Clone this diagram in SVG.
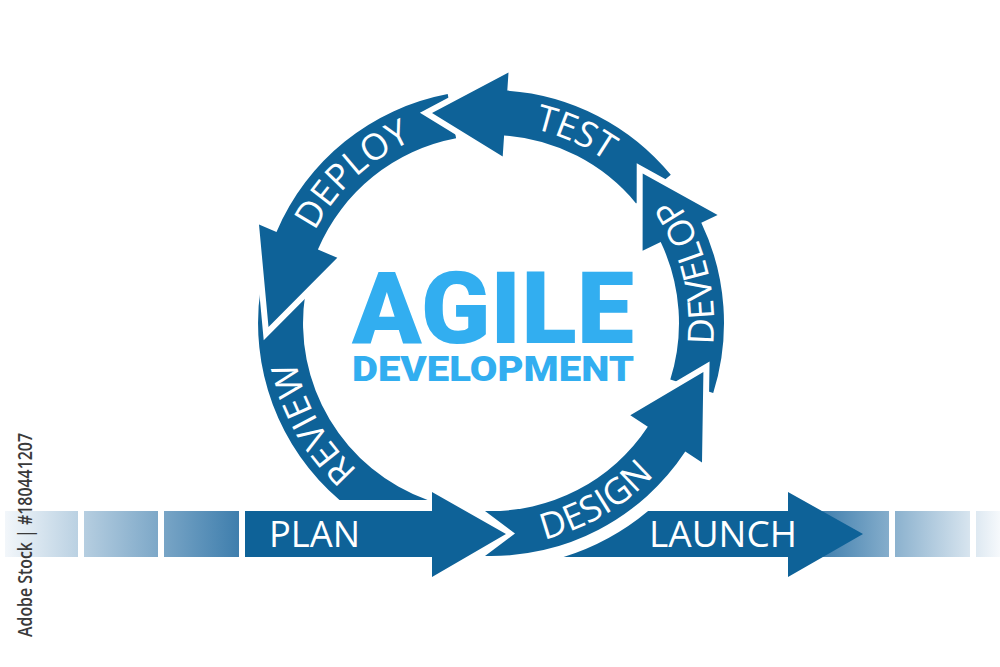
<svg xmlns="http://www.w3.org/2000/svg" xmlns:xlink="http://www.w3.org/1999/xlink" width="1000" height="667" viewBox="0 0 1000 667">
  <style>
    .fill { fill: #0e6298; }
    .halo { fill: #ffffff; stroke: #ffffff; stroke-width: 12; stroke-linejoin: miter; }
    .lbl { fill: #ffffff; font-family: "Open Sans", "Noto Sans", "Liberation Sans", sans-serif; font-size: 36px; font-weight: 400; }
    .title { fill: #32aef0; font-family: Roboto, "Liberation Sans", sans-serif; font-weight: 900; }
    .wm { fill: #3a3a3a; font-family: "Open Sans", "Liberation Sans", sans-serif; font-weight: 600; font-size: 19px; }
  </style>
  <defs>
    <linearGradient id="fadeL" gradientUnits="userSpaceOnUse" x1="0" y1="0" x2="245" y2="0">
      <stop offset="0" stop-color="#f6f9fc"/>
      <stop offset="1" stop-color="#3a7bab"/>
    </linearGradient>
    <linearGradient id="fadeR" gradientUnits="userSpaceOnUse" x1="815" y1="0" x2="1000" y2="0">
      <stop offset="0" stop-color="#3a7bab"/>
      <stop offset="1" stop-color="#f6f9fc"/>
    </linearGradient>
    <path id="p-review" d="M 305.1,295.2 L 260.6,288.6 A 233 233 0 0 0 339.5,500 L 427.6,500 A 188 188 0 0 1 305.1,295.2 Z"/>
    <path id="p-deploy" d="M 456.1,138.3 L 447.7,94.1 A 233 233 0 0 0 276.5,232.0 L 259.0,224.5 L 268.5,327 L 337.3,257.8 L 317.9,249.5 A 188 188 0 0 1 456.1,138.3 Z"/>
    <path id="p-test" d="M 636.1,203.4 L 670.8,174.8 A 233 233 0 0 0 507.3,90.6 L 508.5,72.6 L 432.0,113.1 L 502.7,156.4 L 504.1,135.5 A 188 188 0 0 1 636.1,203.4 Z"/>
    <path id="p-develop" d="M 670.3,379.5 L 713.2,393.1 A 233 233 0 0 0 701.3,222.7 L 717.6,214.9 L 642.7,173.4 L 642.6,250.7 L 660.7,242.1 A 188 188 0 0 1 670.3,379.5 Z"/>
    <path id="p-design" d="M 485,511 L 515,533.5 L 485,556 A 233 233 0 0 0 685.3,451.6 L 702.0,462.6 L 703.4,372.0 L 630.3,415.2 L 647.8,426.8 A 188 188 0 0 1 485,511 Z"/>
    <path id="arc-test" d="M 436.3,132.2 A 198 198 0 0 1 669.4,236.0"/>
    <path id="arc-deploy" d="M 294.0,298.8 A 198 198 0 0 1 480.6,124.8"/>
    <path id="arc-review" d="M 421.5,508.9 A 198 198 0 0 1 295.8,286.8"/>
    <path id="arc-develop" d="M 692.3,419.0 A 223 223 0 0 0 620.5,141.5"/>
    <path id="arc-design" d="M 453.8,542.9 A 223 223 0 0 0 701.1,397.8"/>
  </defs>
  <rect x="0" y="0" width="1000" height="667" fill="#ffffff"/>

  <g id="timeline-fade">
    <rect x="5" y="511" width="73" height="46" fill="url(#fadeL)"/>
    <rect x="84" y="511" width="74" height="46" fill="url(#fadeL)"/>
    <rect x="164" y="511" width="75" height="46" fill="url(#fadeL)"/>
    <rect x="815" y="511" width="74" height="46" fill="url(#fadeR)"/>
    <rect x="895" y="511" width="75" height="46" fill="url(#fadeR)"/>
    <rect x="976" y="511" width="24" height="46" fill="url(#fadeR)"/>
  </g>

  <g id="connectors">
    <g id="launch">
      <path class="fill" d="M 648.1,511 H 788 V 492 L 863,534 L 788,577 V 557 H 563.6 A 245 245 0 0 0 648.1,511 Z"/>
      <text class="lbl" x="649" y="547" font-size="35" textLength="148" lengthAdjust="spacingAndGlyphs">LAUNCH</text>
    </g>
    <g id="review">
      <use xlink:href="#p-review" class="halo"/>
      <use xlink:href="#p-review" class="fill"/>
      <text class="lbl"><textPath xlink:href="#arc-review" startOffset="50%" text-anchor="middle">REVIEW</textPath></text>
    </g>
    <g id="deploy">
      <use xlink:href="#p-deploy" class="halo"/>
      <use xlink:href="#p-deploy" class="fill"/>
      <text class="lbl"><textPath xlink:href="#arc-deploy" startOffset="50%" text-anchor="middle">DEPLOY</textPath></text>
    </g>
    <g id="test">
      <use xlink:href="#p-test" class="halo"/>
      <use xlink:href="#p-test" class="fill"/>
      <text class="lbl"><textPath xlink:href="#arc-test" startOffset="50%" text-anchor="middle">TEST</textPath></text>
    </g>
    <g id="develop">
      <use xlink:href="#p-develop" class="halo"/>
      <use xlink:href="#p-develop" class="fill"/>
      <text class="lbl"><textPath xlink:href="#arc-develop" startOffset="50%" text-anchor="middle">DEVELOP</textPath></text>
    </g>
    <g id="design">
      <use xlink:href="#p-design" class="halo"/>
      <use xlink:href="#p-design" class="fill"/>
      <text class="lbl"><textPath xlink:href="#arc-design" startOffset="50%" text-anchor="middle">DESIGN</textPath></text>
    </g>
    <g id="plan">
      <path class="fill" d="M 245,511 H 432 V 492 L 506,534 L 432,577 V 557 H 245 Z"/>
      <text class="lbl" x="269" y="547" font-size="35" textLength="91" lengthAdjust="spacingAndGlyphs">PLAN</text>
    </g>
  </g>

  <g id="title">
    <text class="title" x="352" y="343" font-size="100" textLength="282" lengthAdjust="spacingAndGlyphs">AGILE</text>
    <text class="title" x="352" y="381" font-size="35" textLength="282" lengthAdjust="spacingAndGlyphs">DEVELOPMENT</text>
  </g>

  <text class="wm" transform="translate(32,637) rotate(-90)" textLength="204" lengthAdjust="spacingAndGlyphs">Adobe Stock | #180441207</text>
</svg>
